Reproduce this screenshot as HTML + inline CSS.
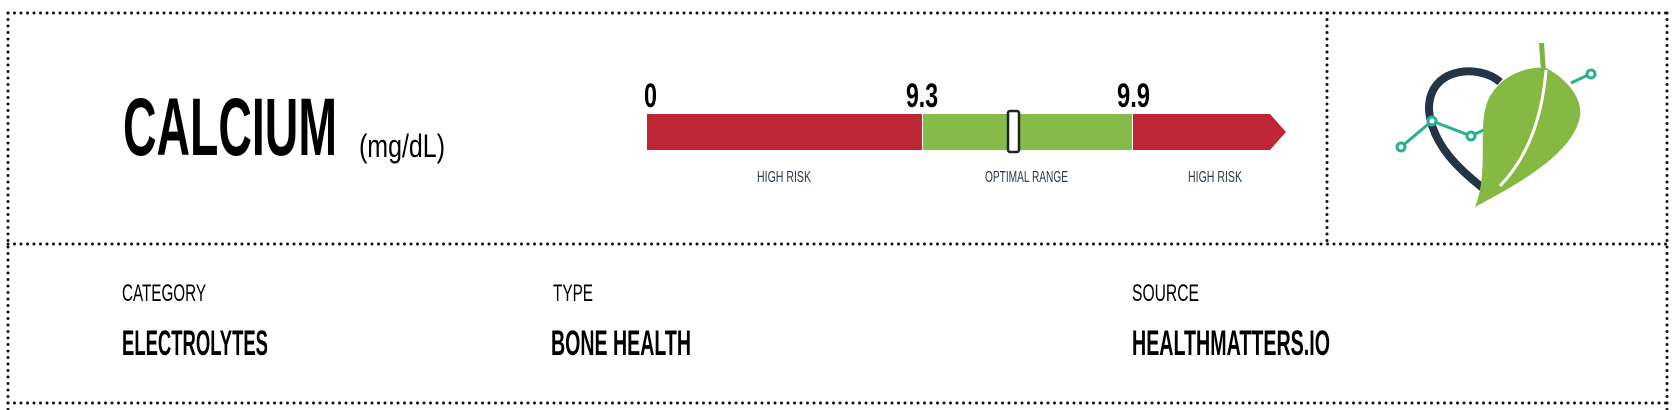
<!DOCTYPE html>
<html><head><meta charset="utf-8"><style>
html,body{margin:0;padding:0;background:#fff;width:1678px;height:410px;overflow:hidden}
svg{display:block}
text{font-family:"Liberation Sans Narrow","Liberation Sans",sans-serif}
.b{font-weight:bold}
</style></head><body>
<svg width="1678" height="410" viewBox="0 0 1678 410" xmlns="http://www.w3.org/2000/svg">
<g stroke="#111" stroke-width="3" stroke-linecap="round" stroke-dasharray="0 6.5" fill="none">
<line x1="8" y1="13" x2="1667" y2="13"/>
<line x1="8" y1="13" x2="8" y2="410"/>
<line x1="1667" y1="13" x2="1667" y2="410"/>
<line x1="8" y1="244" x2="1667" y2="244"/>
<line x1="8" y1="403" x2="1667" y2="403"/>
<line x1="1327" y1="13" x2="1327" y2="244"/>
</g>
<text class="b" x="123" y="155" font-size="82" textLength="214" lengthAdjust="spacingAndGlyphs" fill="#000">CALCIUM</text>
<text x="359" y="157" font-size="32" textLength="86" lengthAdjust="spacingAndGlyphs" fill="#000">(mg/dL)</text>
<text class="b" x="644" y="107" font-size="34" textLength="13" lengthAdjust="spacingAndGlyphs" fill="#000">0</text>
<text class="b" x="906" y="107" font-size="34" textLength="32" lengthAdjust="spacingAndGlyphs" fill="#000">9.3</text>
<text class="b" x="1117" y="107" font-size="34" textLength="33" lengthAdjust="spacingAndGlyphs" fill="#000">9.9</text>
<rect x="647" y="114" width="275" height="36" fill="#be2535"/>
<rect x="923" y="114" width="209" height="36" fill="#86bb4a"/>
<polygon points="1133,114 1270,114 1286,132 1270,150 1133,150" fill="#be2535"/>
<rect x="1008" y="111" width="11" height="41" rx="2" fill="#fff" stroke="#222" stroke-width="2.5"/>
<g fill="#2c3a4c" font-size="16">
<text x="757" y="182" textLength="54" lengthAdjust="spacingAndGlyphs">HIGH RISK</text>
<text x="985" y="182" textLength="83" lengthAdjust="spacingAndGlyphs">OPTIMAL RANGE</text>
<text x="1188" y="182" textLength="54" lengthAdjust="spacingAndGlyphs">HIGH RISK</text>
</g>
<g fill="#000">
<text x="122" y="301" font-size="24" textLength="84" lengthAdjust="spacingAndGlyphs">CATEGORY</text>
<text x="553" y="301" font-size="24" textLength="40" lengthAdjust="spacingAndGlyphs">TYPE</text>
<text x="1132" y="301" font-size="24" textLength="67" lengthAdjust="spacingAndGlyphs">SOURCE</text>
<text class="b" x="122" y="355" font-size="35" textLength="146" lengthAdjust="spacingAndGlyphs">ELECTROLYTES</text>
<text class="b" x="551" y="355" font-size="35" textLength="140" lengthAdjust="spacingAndGlyphs">BONE HEALTH</text>
<text class="b" x="1132" y="355" font-size="35" textLength="198" lengthAdjust="spacingAndGlyphs">HEALTHMATTERS.IO</text>
</g>
<path d="M1500,82 C1480,64 1428,66 1429,110 C1432,145 1460,170 1484,189" fill="none" stroke="#243447" stroke-width="8"/>
<g stroke="#2bb08e" stroke-width="3" fill="none">
<polyline points="1401,147 1432,121 1471,136 1490,127"/>
<line x1="1571" y1="83" x2="1590" y2="74"/>
</g>
<path d="M1475,207 C1490,170 1476,125 1489,98 C1503,72 1532,66 1546,68 C1562,76 1583,95 1580,116 C1574,150 1530,178 1475,207 Z" fill="#86b944"/>
<path d="M1539,43 L1544,43 L1546,72 L1541,72 Z" fill="#7cb342"/>
<path d="M1546,70 C1542,120 1527,158 1500,186" fill="none" stroke="#fff" stroke-width="3"/>
<g fill="#fff" stroke="#2bb08e" stroke-width="3">
<circle cx="1401" cy="147" r="4"/>
<circle cx="1432" cy="121" r="4"/>
<circle cx="1471" cy="136" r="4"/>
<circle cx="1591" cy="74" r="4"/>
</g>
</svg>
</body></html>
